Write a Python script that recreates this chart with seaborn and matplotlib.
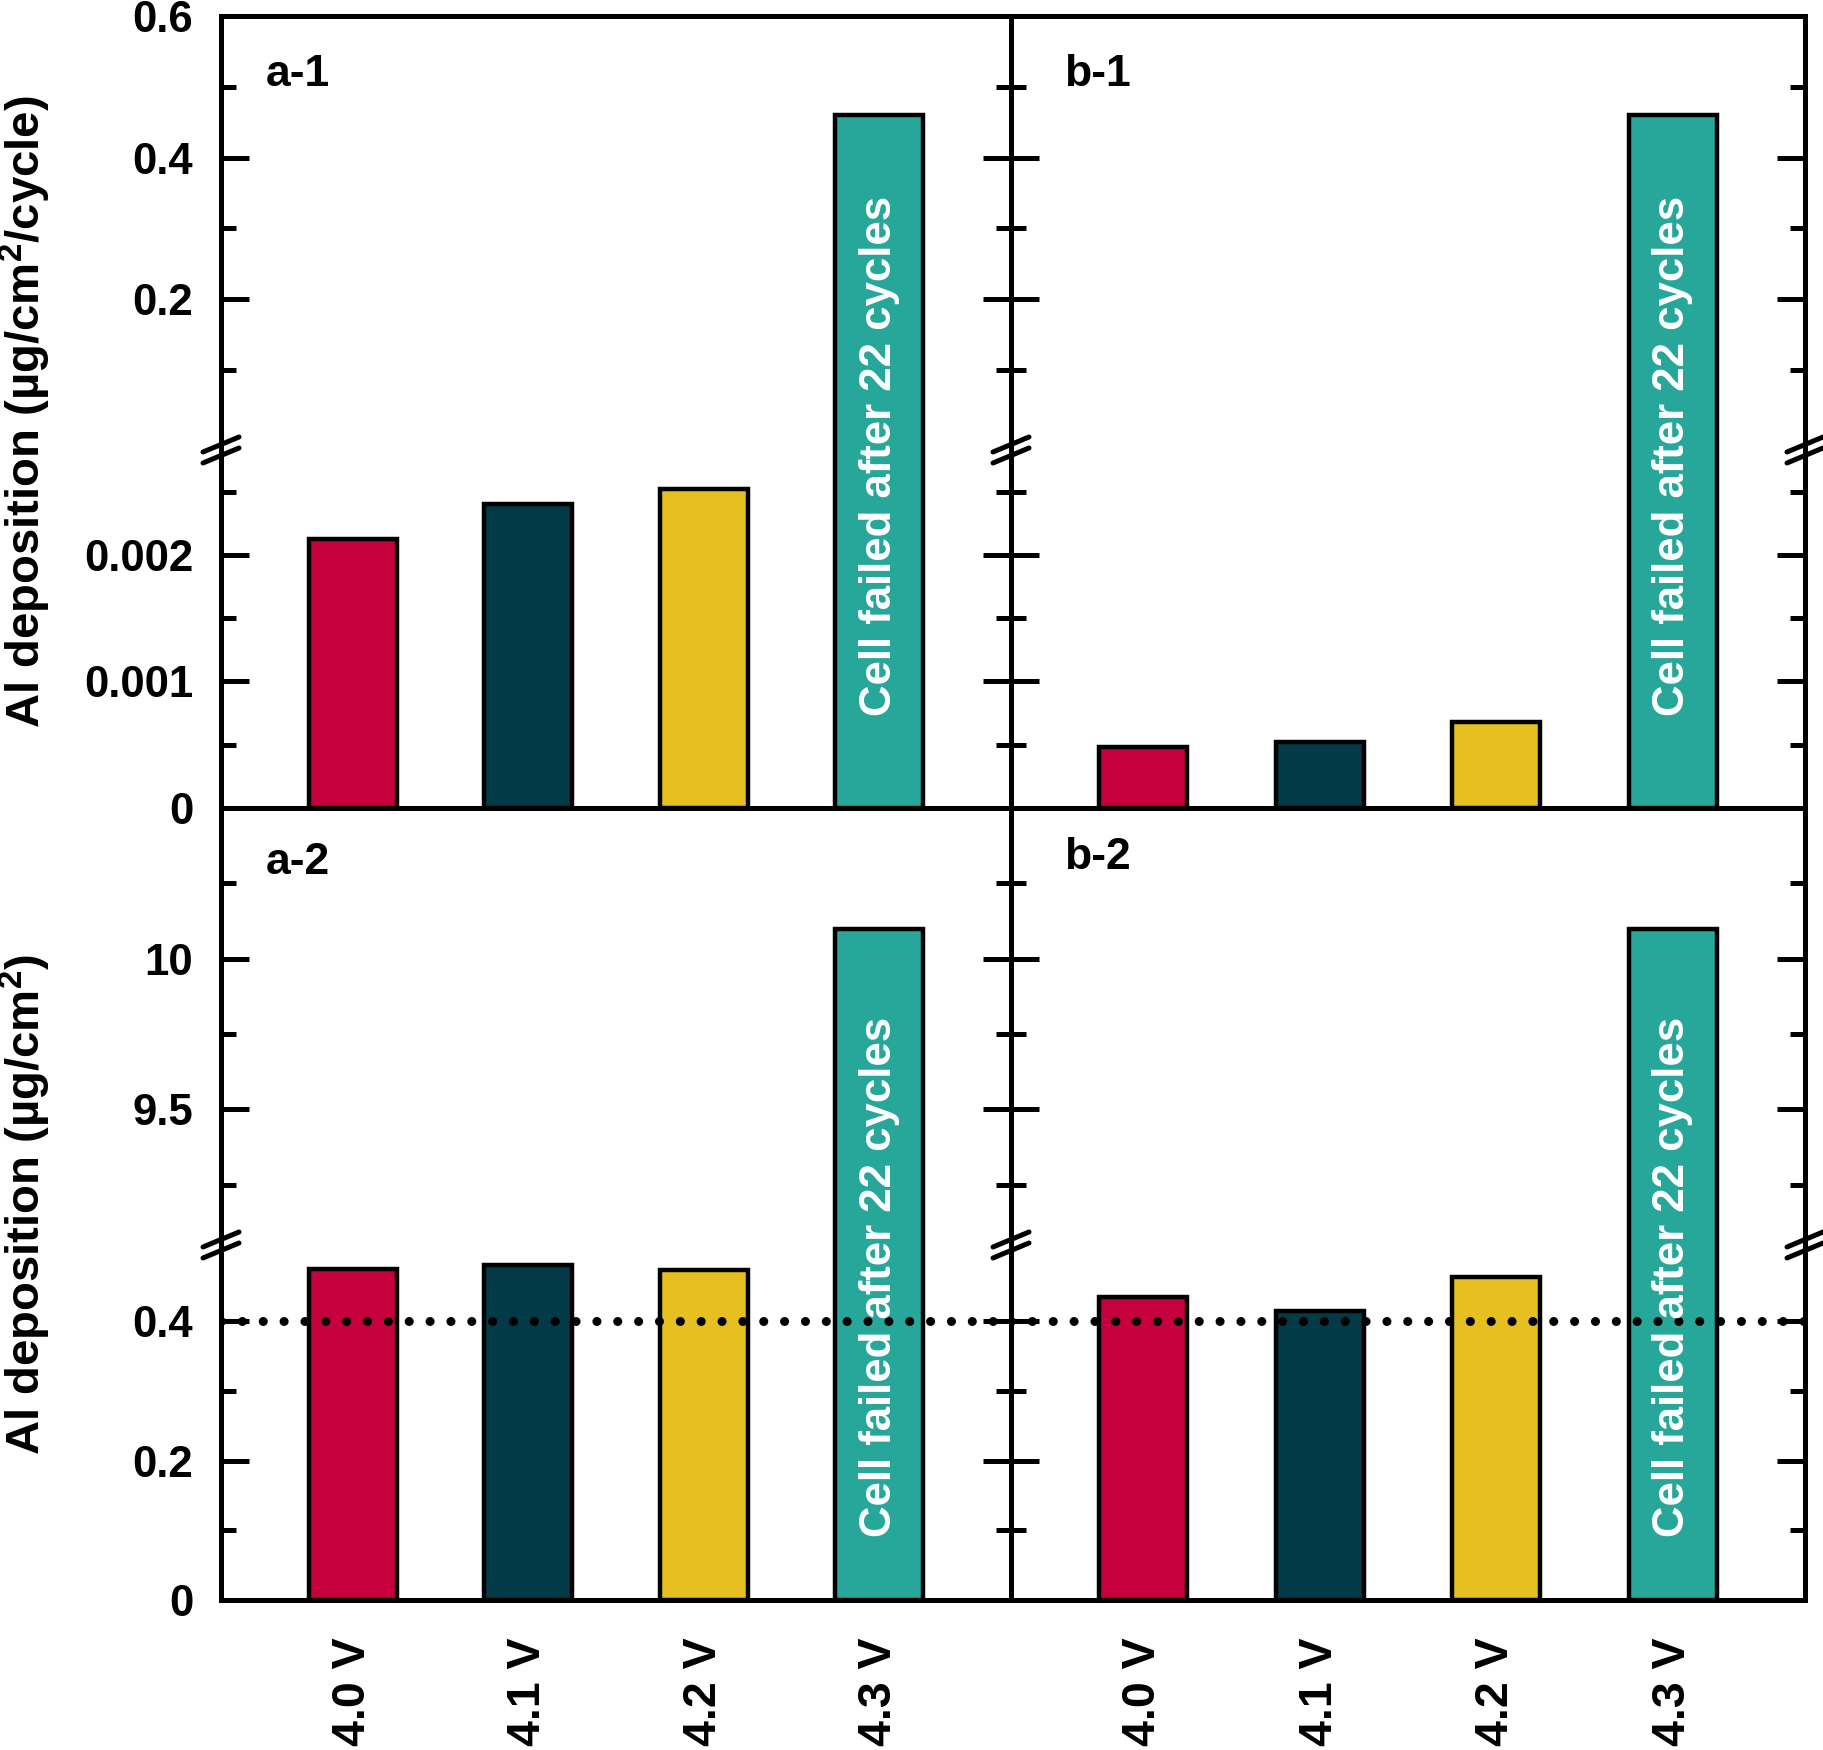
import numpy as np
import pandas as pd
import seaborn as sns
import matplotlib
matplotlib.use("Agg")
import matplotlib.pyplot as plt
from matplotlib.lines import Line2D
from matplotlib.transforms import blended_transform_factory

# ---------------- data ----------------
voltages = ["4.0 V", "4.1 V", "4.2 V", "4.3 V"]
bar_colors = ["#C5003C", "#033A47", "#E5C020", "#27A79A"]

rate_a = [0.00213, 0.00240, 0.00252, 0.46]     # µg/cm²/cycle, panel a-1
rate_b = [0.00048, 0.00052, 0.00068, 0.46]     # panel b-1
total_a = [0.475, 0.480, 0.473, 10.10]          # µg/cm², panel a-2
total_b = [0.434, 0.414, 0.463, 10.10]          # panel b-2

# broken-axis segments
rate_lower_lim = (0.0, 0.00283)
rate_upper_lim = (-0.013, 0.6)
total_lower_lim = (0.0, 0.509)
total_upper_lim = (9.05, 10.5)

rate_lower_major = [0, 0.001, 0.002]
rate_lower_labels = ["0", "0.001", "0.002"]
rate_lower_minor = [0.0005, 0.0015, 0.0025]
rate_upper_major = [0.2, 0.4, 0.6]
rate_upper_labels = ["0.2", "0.4", "0.6"]
rate_upper_minor = [0.1, 0.3, 0.5]
total_lower_major = [0, 0.2, 0.4]
total_lower_labels = ["0", "0.2", "0.4"]
total_lower_minor = [0.1, 0.3]
total_upper_major = [9.5, 10.0]
total_upper_labels = ["9.5", "10"]
total_upper_minor = [9.25, 9.75, 10.25]

reference_line = 0.4
panel_labels = ["a-1", "b-1", "a-2", "b-2"]
failed_text = "Cell failed after 22 cycles"
ylabel_rate = "Al deposition (µg/cm$^{\\mathbf{2}}$/cycle)"
ylabel_total = "Al deposition (µg/cm$^{\\mathbf{2}}$)"

# ---------------- style ----------------
sns.set_style("ticks")
plt.rcParams["font.family"] = ["Liberation Sans", "DejaVu Sans"]
plt.rcParams["font.weight"] = "bold"
plt.rcParams["mathtext.fontset"] = "custom"
plt.rcParams["mathtext.bf"] = "Liberation Sans:bold"
plt.rcParams["mathtext.rm"] = "Liberation Sans:bold"
for key in ["text.color", "xtick.color", "ytick.color", "axes.labelcolor",
            "axes.edgecolor", "xtick.labelcolor", "ytick.labelcolor"]:
    plt.rcParams[key] = "black"
plt.rcParams["axes.linewidth"] = 3.6

W, H = 1823, 1750
fig = plt.figure(figsize=(W / 100, H / 100), dpi=100)

def fx(px):
    return px / W

def fy(py):
    return 1 - py / H

x_left, x_mid, x_right = fx(221), fx(1011), fx(1805)
y_top, y_brk1, y_mid, y_brk2, y_bot = fy(16), fy(450), fy(808), fy(1245), fy(1600)

cols = [(x_left, x_mid), (x_mid, x_right)]
rows = [(y_brk1, y_top, y_mid, y_brk1), (y_brk2, y_mid, y_bot, y_brk2)]

def draw_bars(ax, values):
    sns.barplot(x=voltages, y=values, hue=voltages, palette=bar_colors,
                width=0.5, saturation=1, edgecolor="black", linewidth=3.2,
                legend=False, ax=ax, zorder=2)
    ax.set_xlim(-0.75, 3.75)

def style_axis(ax, ylim, major, labels, minor, show_labels):
    ax.set_ylim(*ylim)
    ax.set_yticks(major)
    ax.set_yticks(minor, minor=True)
    ax.set_yticklabels(labels if show_labels else [])
    ax.tick_params(axis="y", which="major", direction="in", length=20, width=3.6,
                   left=True, right=True, labelsize=31.5, pad=20)
    ax.tick_params(axis="y", which="minor", direction="in", length=11, width=3.6,
                   left=True, right=True)
    for s in ax.spines.values():
        s.set_linewidth(3.6)
        s.set_color("black")
    ax.set_xlabel("")
    ax.set_ylabel("")

def trim_upper(ax, lower_top):
    lo, hi = ax.get_ylim()
    base = lo - 0.05 * (hi - lo)
    for p in ax.patches:
        top = p.get_y() + p.get_height()
        if top <= lower_top:
            p.set_visible(False)
        else:
            p.set_y(base)
            p.set_height(top - base)

datasets = [[rate_a, rate_b], [total_a, total_b]]
settings = [
    dict(lower=(rate_lower_lim, rate_lower_major, rate_lower_labels, rate_lower_minor),
         upper=(rate_upper_lim, rate_upper_major, rate_upper_labels, rate_upper_minor)),
    dict(lower=(total_lower_lim, total_lower_major, total_lower_labels, total_lower_minor),
         upper=(total_upper_lim, total_upper_major, total_upper_labels, total_upper_minor)),
]
text_y = [fy(456), fy(1277)]
label_pos = [(266, 75), (1064, 75), (266, 862), (1064, 858)]

for r in range(2):
    up_b, up_t, lo_b, lo_t = rows[r]
    for c in range(2):
        x0, x1 = cols[c]
        values = datasets[r][c]
        show = c == 0
        ax_up = fig.add_axes([x0, up_b, x1 - x0, up_t - up_b])
        ax_lo = fig.add_axes([x0, lo_b, x1 - x0, lo_t - lo_b])
        draw_bars(ax_up, values)
        draw_bars(ax_lo, values)
        style_axis(ax_up, *settings[r]["upper"], show)
        style_axis(ax_lo, *settings[r]["lower"], show)
        trim_upper(ax_up, settings[r]["lower"][0][1])
        ax_up.spines["bottom"].set_visible(False)
        ax_lo.spines["top"].set_visible(False)
        ax_up.tick_params(axis="x", bottom=False, labelbottom=False)
        if r == 1:
            ax_lo.tick_params(axis="x", bottom=False, length=0, labelsize=33.5,
                              labelrotation=90, pad=27)
            ax_lo.axhline(reference_line, color="black", linewidth=6.5,
                          linestyle=(0, (0.01, 2.3)), dash_capstyle="round", zorder=5)
        else:
            ax_lo.tick_params(axis="x", bottom=False, labelbottom=False)
        tr = blended_transform_factory(ax_lo.transData, fig.transFigure)
        ax_lo.text(3, text_y[r], failed_text, rotation=90, ha="center", va="center",
                   color="white", fontsize=31.5, fontweight="bold", transform=tr,
                   clip_on=False, zorder=6)
        lx, ly = label_pos[r * 2 + c]
        fig.text(fx(lx), fy(ly), panel_labels[r * 2 + c], ha="left", va="center",
                 fontsize=32, fontweight="bold", color="black")

# break marks "//"
for yb in [y_brk1, y_brk2]:
    for xb in [x_left, x_mid, x_right]:
        for off in (-5.5, 5.5):
            fig.add_artist(Line2D([xb - fx(18), xb + fx(18)],
                                  [yb + (off - 7.5) / H, yb + (off + 7.5) / H],
                                  transform=fig.transFigure, color="black",
                                  linewidth=3.6, solid_capstyle="round", zorder=10))

fig.text(fx(25), fy(412), ylabel_rate, rotation=90, ha="center", va="center",
         fontsize=34, fontweight="bold", color="black")
fig.text(fx(25), fy(1204), ylabel_total, rotation=90, ha="center", va="center",
         fontsize=34, fontweight="bold", color="black")

fig.savefig("out.png", dpi=100)
